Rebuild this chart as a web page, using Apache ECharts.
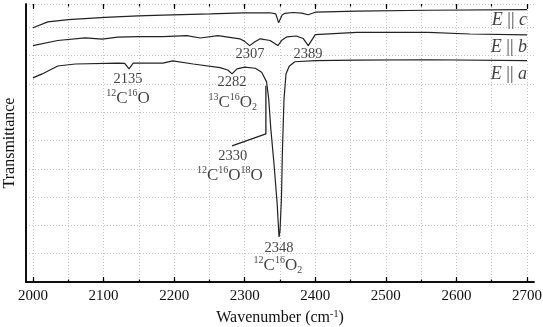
<!DOCTYPE html>
<html>
<head>
<meta charset="utf-8">
<script src="https://cdn.jsdelivr.net/npm/echarts@6/dist/echarts.min.js"></script>
<style>
  html, body { margin: 0; padding: 0; background: #fff; }
  #chart { width: 543px; height: 327px; }
</style>
</head>
<body>
<div id="chart"></div>
<script>
// IR transmittance spectra, three polarisations. y in arbitrary units (gridline steps).
const wnC = [2000, 2021, 2050, 2102, 2149, 2184, 2251, 2298, 2336, 2344, 2348, 2353, 2357, 2368, 2381, 2390, 2400, 2459, 2560, 2700]
const tC = [8.98, 9.19, 9.27, 9.35, 9.40, 9.43, 9.47, 9.51, 9.51, 9.47, 9.16, 9.43, 9.49, 9.52, 9.50, 9.44, 9.53, 9.57, 9.60, 9.62]

const wnB = [2000, 2035, 2074, 2098, 2120, 2149, 2184, 2218, 2237, 2262, 2293, 2300, 2307, 2314, 2322, 2336, 2347, 2353, 2360, 2373, 2383, 2390, 2400, 2459, 2560, 2619, 2700]
const tB = [8.35, 8.53, 8.62, 8.58, 8.65, 8.67, 8.67, 8.70, 8.62, 8.70, 8.59, 8.50, 8.35, 8.48, 8.59, 8.53, 8.35, 8.55, 8.66, 8.69, 8.60, 8.35, 8.74, 8.82, 8.82, 8.76, 8.73]

const wnA = [2000, 2013, 2035, 2060, 2120, 2130, 2136, 2142, 2184, 2198, 2227, 2265, 2276, 2282, 2289, 2300, 2315, 2324, 2331, 2334, 2337, 2341.5, 2346, 2348.6, 2350, 2352, 2353.5, 2355.7, 2358.5, 2363, 2371, 2400, 2459, 2560, 2700]
const tA = [7.21, 7.35, 7.63, 7.70, 7.73, 7.72, 7.53, 7.73, 7.73, 7.81, 7.70, 7.57, 7.49, 7.35, 7.53, 7.59, 7.55, 7.41, 7.07, 6.47, 5.41, 4.17, 2.76, 1.59, 1.80, 2.93, 4.70, 6.47, 7.35, 7.62, 7.78, 7.82, 7.84, 7.85, 7.82]

// leader line for the 2330 shoulder
const wnLead = [2330, 2330, 2282]
const tLead = [6.93, 5.23, 4.81]

// peak annotations: [wavenumber, y, text]
const peakLabels = [
  [2134.6, 7.17, "{n|2135}"],
  [2134.6, 6.47, "{s|12}{m|C}{s|16}{m|O}"],
  [2307.5, 8.06, "{n|2307}"],
  [2282, 7.07, "{n|2282}"],
  [2283, 6.33, "{s|13}{m|C}{s|16}{m|O}{b|2}"],
  [2389.7, 8.06, "{n|2389}"],
  [2283, 4.45, "{n|2330}"],
  [2279, 3.75, "{s|12}{m|C}{s|16}{m|O}{s|18}{m|O}"],
  [2348.6, 1.20, "{n|2348}"],
  [2347, 0.57, "{s|12}{m|C}{s|16}{m|O}{b|2}"],
]
const polLabels = [
  [2700, 9.26, "{i|E}{p| || }{i|c}"],
  [2700, 8.30, "{i|E}{p| || }{i|b}"],
  [2700, 7.35, "{i|E}{p| || }{i|a}"],
]

const FONT = "Liberation Serif"
const INK = "#111"
const YMAX = 9.82
const zip = (xs, ys) => xs.map((x, i) => [x, ys[i]])

const rich = {
  n: { fontFamily: FONT, fontSize: 14.5, color: INK },
  m: { fontFamily: FONT, fontSize: 17, color: INK, lineHeight: 20, verticalAlign: "middle" },
  s: { fontFamily: FONT, fontSize: 10, color: INK, lineHeight: 20, verticalAlign: "top" },
  b: { fontFamily: FONT, fontSize: 10, color: INK, lineHeight: 20, verticalAlign: "bottom" },
  i: { fontFamily: FONT, fontSize: 18, color: INK, fontStyle: "italic" },
  p: { fontFamily: FONT, fontSize: 18, color: INK },
}

const chart = echarts.init(document.getElementById("chart"))

const frameLine = { show: true, lineStyle: { color: "#000", width: 1.5 } }
const tickLine = { color: "#000", width: 1.2 }
const dotted = { color: "#c4c4c4", type: [1, 2], width: 1 }
const lineStyle = { color: "#222", width: 1.2 }
const off = { show: false }

// outer grid = frame + horizontal grid; inner grid = wavenumber scale 2000..2700
const frameX = (position) => ({
  type: "value", gridIndex: 0, position, min: 0, max: 1,
  axisLine: frameLine, axisTick: off, axisLabel: off, splitLine: off,
})
const waveX = (position, interval, length, extra) => ({
  type: "value", gridIndex: 1, position, min: 2000, max: 2700, interval,
  axisLine: off,
  axisTick: { show: true, inside: true, length, lineStyle: tickLine },
  axisLabel: off, splitLine: off,
  ...extra,
})

chart.setOption({
  animation: false,
  backgroundColor: "#fff",
  grid: [
    { left: 26, right: 9, top: 4, bottom: 45, outerBoundsMode: "none", containLabel: false },
    { left: 33, right: 16, top: 4, bottom: 45, outerBoundsMode: "none", containLabel: false },
  ],
  xAxis: [
    frameX("bottom"),
    frameX("top"),
    waveX("bottom", 100, 5, {
      axisLabel: { show: true, formatter: (v) => String(v), fontFamily: FONT, fontSize: 15, color: INK, margin: 7 },
      name: "{t|Wavenumber (cm}{u|-1}{t|)}",
      nameLocation: "middle",
      nameGap: 27,
      nameTextStyle: {
        rich: {
          t: { fontFamily: FONT, fontSize: 16, color: INK, lineHeight: 18, verticalAlign: "middle" },
          u: { fontFamily: FONT, fontSize: 10, color: INK, lineHeight: 18, verticalAlign: "top" },
        },
      },
    }),
    waveX("bottom", 50, 2.5, { splitLine: { show: true, lineStyle: dotted } }),
    waveX("top", 100, 5),
    waveX("top", 50, 2.5),
  ],
  yAxis: [
    {
      type: "value", gridIndex: 0, position: "left", min: 0, max: YMAX, interval: 1,
      axisLine: frameLine, axisTick: off, axisLabel: off,
      splitLine: { show: true, lineStyle: dotted },
      name: "Transmittance",
      nameLocation: "middle",
      nameGap: 8,
      nameTextStyle: { fontFamily: FONT, fontSize: 16, color: INK },
    },
    {
      type: "value", gridIndex: 0, position: "right", min: 0, max: YMAX,
      axisLine: frameLine, axisTick: off, axisLabel: off, splitLine: off,
    },
    {
      type: "value", gridIndex: 1, min: 0, max: YMAX,
      axisLine: off, axisTick: off, axisLabel: off, splitLine: off,
    },
  ],
  series: [
    { type: "line", xAxisIndex: 2, yAxisIndex: 2, data: zip(wnC, tC), symbol: "none", lineStyle },
    { type: "line", xAxisIndex: 2, yAxisIndex: 2, data: zip(wnB, tB), symbol: "none", lineStyle },
    { type: "line", xAxisIndex: 2, yAxisIndex: 2, data: zip(wnA, tA), symbol: "none", lineStyle },
    { type: "line", xAxisIndex: 2, yAxisIndex: 2, data: zip(wnLead, tLead), symbol: "none", lineStyle: { color: "#222", width: 1.3 } },
    {
      type: "scatter", xAxisIndex: 2, yAxisIndex: 2,
      symbolSize: 0,
      silent: true,
      data: peakLabels.map(([x, y, t]) => ({ value: [x, y], name: t })),
      label: { show: true, position: "inside", formatter: (p) => p.name, rich },
    },
    {
      type: "scatter", xAxisIndex: 2, yAxisIndex: 2,
      symbolSize: 0,
      silent: true,
      data: polLabels.map(([x, y, t]) => ({ value: [x, y], name: t })),
      label: { show: true, position: "left", distance: 0, formatter: (p) => p.name, rich },
    },
  ],
})
</script>
</body>
</html>
